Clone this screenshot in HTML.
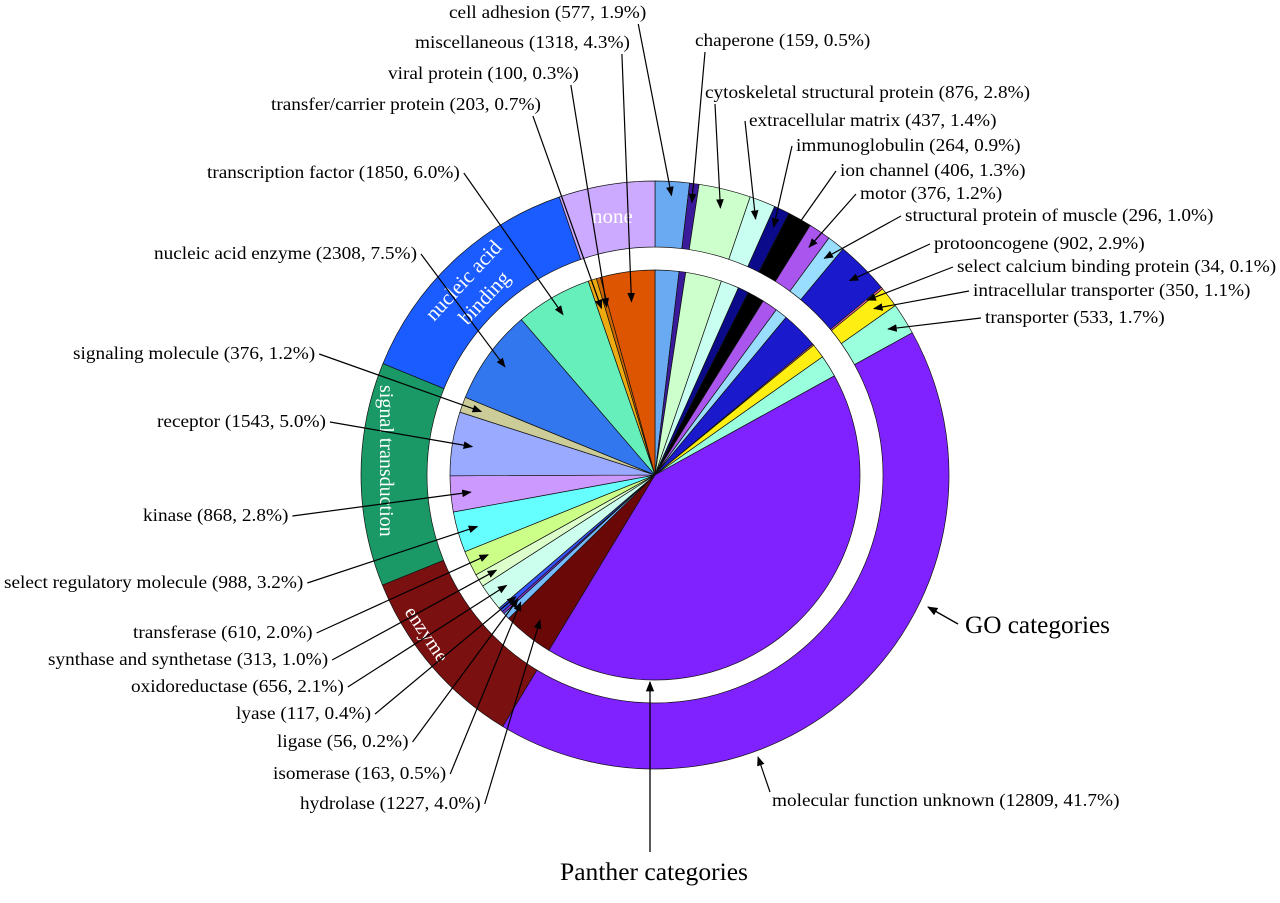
<!DOCTYPE html>
<html><head><meta charset="utf-8">
<style>
html,body{margin:0;padding:0;background:#fff;}
svg{display:block;font-family:"Liberation Serif",serif;}
</style></head>
<body>
<svg id="chart" width="1280" height="903" viewBox="0 0 1280 903">
<defs>
<marker id="ah" viewBox="0 0 10 10" refX="9" refY="5" markerWidth="8" markerHeight="8" orient="auto-start-reverse">
<path d="M0,1 L10,5 L0,9 z" fill="#000"/>
</marker>
</defs>
<g id="inner"></g>
<g id="outer"></g>
<g id="ringlabels">
<text x="592" y="223" font-size="21" fill="#fff">none</text>
<text font-size="21" fill="#fff" transform="translate(434,322) rotate(-47)"><tspan x="0" y="0">nucleic acid</tspan><tspan x="20" y="27">binding</tspan></text>
<text font-size="20" fill="#fff" transform="translate(380,385) rotate(90)">signal transduction</text>
<text font-size="20" fill="#fff" transform="translate(404,612) rotate(56)">enzyme</text>
</g>
<g id="labels"></g>
<g>
<text x="965" y="633" font-size="25" textLength="145" lengthAdjust="spacingAndGlyphs">GO categories</text>
<line x1="958" y1="624" x2="928" y2="607" stroke="#000" stroke-width="1.3" marker-end="url(#ah)"/>
<text x="560" y="880" font-size="25" textLength="188" lengthAdjust="spacingAndGlyphs">Panther categories</text>
<line x1="650" y1="852" x2="650" y2="682" stroke="#000" stroke-width="1.3" marker-end="url(#ah)"/>
</g>
</svg>
<script>
const categories = ["cell adhesion","chaperone","cytoskeletal structural protein","extracellular matrix","immunoglobulin","ion channel","motor","structural protein of muscle","protooncogene","select calcium binding protein","intracellular transporter","transporter","molecular function unknown","hydrolase","isomerase","ligase","lyase","oxidoreductase","synthase and synthetase","transferase","select regulatory molecule","kinase","receptor","signaling molecule","nucleic acid enzyme","transcription factor","transfer/carrier protein","viral protein","miscellaneous"];
const counts = [577,159,876,437,264,406,376,296,902,34,350,533,12809,1227,163,56,117,656,313,610,988,868,1543,376,2308,1850,203,100,1318];
const percents = ["1.9","0.5","2.8","1.4","0.9","1.3","1.2","1.0","2.9","0.1","1.1","1.7","41.7","4.0","0.5","0.2","0.4","2.1","1.0","2.0","3.2","2.8","5.0","1.2","7.5","6.0","0.7","0.3","4.3"];
const goGroups = ["cell adhesion","chaperone","cytoskeletal","extracellular matrix","immunoglobulin","ion channel","motor","structural muscle","protooncogene","calcium binding","intracellular transporter","transporter","molecular function unknown","enzyme","enzyme","enzyme","enzyme","enzyme","enzyme","enzyme","signal transduction","signal transduction","signal transduction","signal transduction","nucleic acid binding","nucleic acid binding","none","none","none"];
const colors = ["#6aaaf2","#3a1a9a","#ccffcc","#c8fff0","#0a0a8a","#000000","#aa55ee","#99ddff","#1a1acc","#ee66aa","#ffee11","#99ffdd","#7f22ff","#6a0808","#77bbff","#8833cc","#3355ff","#ccffee","#ddffcc","#ccff88","#66ffff","#cc99ff","#99aaff","#cccc99","#3377ee","#66eebb","#eeaa11","#cc6600","#dd5500"];
const groupColors = {"molecular function unknown":"#7f22ff","enzyme":"#7a1010","signal transduction":"#1a9966","nucleic acid binding":"#1a5cff","none":"#ccaaff"};
const labelPos = [[449,18],[415,48],[388,79],[271,110],[207,178],[154,259],[73,359],[157,427],[143,521],[4,588],[133,638],[48,665],[131,692],[236,719],[277,747],[273,779],[300,809]];
const leftOrder = ["cell adhesion","miscellaneous","viral protein","transfer/carrier protein","transcription factor","nucleic acid enzyme","signaling molecule","receptor","kinase","select regulatory molecule","transferase","synthase and synthetase","oxidoreductase","lyase","ligase","isomerase","hydrolase"];
const rightOrder = ["chaperone","cytoskeletal structural protein","extracellular matrix","immunoglobulin","ion channel","motor","structural protein of muscle","protooncogene","select calcium binding protein","intracellular transporter","transporter"];
const rightPos = [[695,46],[705,98],[749,126],[796,151],[840,176],[860,199],[905,221],[934,249],[957,272],[973,296],[985,323]];

const NS="http://www.w3.org/2000/svg";
const cx=655, cy=475, rIn=205, rO1=228, rO2=294;
const total=counts.reduce((a,b)=>a+b,0);
function pt(a,r){return [cx+r*Math.cos(a), cy+r*Math.sin(a)];}
function arcPath(a0,a1,r0,r1){
  const large=(a1-a0)>Math.PI?1:0;
  const p1=pt(a0,r1),p2=pt(a1,r1);
  if(r0===0){return `M${cx},${cy} L${p1[0]},${p1[1]} A${r1},${r1} 0 ${large} 1 ${p2[0]},${p2[1]} Z`;}
  const p3=pt(a1,r0),p4=pt(a0,r0);
  return `M${p1[0]},${p1[1]} A${r1},${r1} 0 ${large} 1 ${p2[0]},${p2[1]} L${p3[0]},${p3[1]} A${r0},${r0} 0 ${large} 0 ${p4[0]},${p4[1]} Z`;
}
const inner=document.getElementById('inner'), outer=document.getElementById('outer'), labels=document.getElementById('labels');
let a=-Math.PI/2; const mids={};
const spans=[];
categories.forEach((c,i)=>{
  const a1=a+counts[i]/total*2*Math.PI;
  mids[c]=(a+a1)/2;
  const p=document.createElementNS(NS,'path');
  p.setAttribute('d',arcPath(a,a1,0,rIn));
  p.setAttribute('fill',colors[i]);p.setAttribute('stroke','#111');p.setAttribute('stroke-width','0.7');
  
  
  inner.appendChild(p);
  const g=goGroups[i];
  if(spans.length && spans[spans.length-1].g===g && groupColors[g]) spans[spans.length-1].a1=a1;
  else spans.push({g:g,a0:a,a1:a1,color:groupColors[g]||colors[i]});
  a=a1;
});
spans.forEach(s=>{
  const p=document.createElementNS(NS,'path');
  p.setAttribute('d',arcPath(s.a0,s.a1,rO1,rO2));
  p.setAttribute('fill',s.color);p.setAttribute('stroke','#111');p.setAttribute('stroke-width','0.7');
  
  
  outer.appendChild(p);
});
function makeText(str,x,y,name){
  const t=document.createElementNS(NS,'text');
  t.setAttribute('x',x);t.setAttribute('y',y);t.setAttribute('font-size','17.5');
  t.textContent=str;
  
  
  labels.appendChild(t);
  const w=t.getComputedTextLength()*1.1;
  t.setAttribute('textLength',w);t.setAttribute('lengthAdjust','spacingAndGlyphs');
  return w;
}
function makeLine(x1,y1,x2,y2,name){
  const l=document.createElementNS(NS,'line');
  l.setAttribute('x1',x1);l.setAttribute('y1',y1);l.setAttribute('x2',x2);l.setAttribute('y2',y2);
  l.setAttribute('stroke','#000');l.setAttribute('stroke-width','1.2');l.setAttribute('marker-end','url(#ah)');
  
  
  labels.appendChild(l);
}
function lbl(c){const i=categories.indexOf(c);return `${c} (${counts[i]}, ${percents[i]}%)`;}
function slug(c){return c.replace(/[^a-z]+/gi,'-').toLowerCase();}
leftOrder.forEach((c,k)=>{
  const [x,y]=labelPos[k];
  const w=makeText(lbl(c),x,y,'label-'+slug(c));
  const top=(k<4);
  const lx= top? x+w-8 : x+w+4, ly= top? y+6 : y-5;
  const r=(c==='cell adhesion')?280:(top?175:185);
  const e=pt(mids[c],r);
  makeLine(lx,ly,e[0],e[1],'leader-'+slug(c));
});
rightOrder.forEach((c,k)=>{
  const [x,y]=rightPos[k];
  makeText(lbl(c),x,y,'label-'+slug(c));
  const lx= k<2? x+10 : x-4, ly= k<2? y+6 : y-5;
  const e=pt(mids[c],275);
  makeLine(lx,ly,e[0],e[1],'leader-'+slug(c));
});
makeText(lbl("molecular function unknown"),772,806,'label-molecular-function-unknown');
makeLine(770,792,758,757,'leader-molecular-function-unknown');
</script>
</body></html>
